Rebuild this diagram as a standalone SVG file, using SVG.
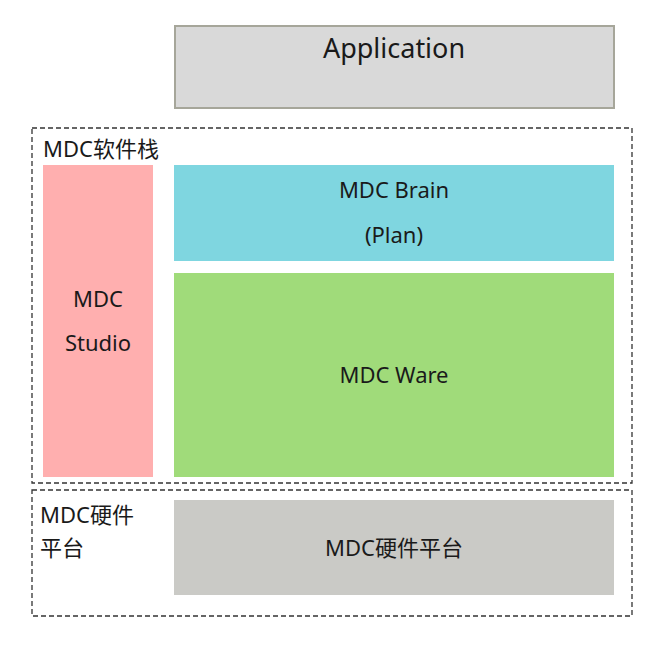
<svg xmlns="http://www.w3.org/2000/svg" width="667" height="654" viewBox="0 0 667 654">
<style>
text{font-family:"Noto Sans","Noto Sans CJK SC",sans-serif;fill:#1a1a1a}
.dash{fill:none;stroke:#333;stroke-width:1.3;stroke-dasharray:5,3}
</style>
<rect width="667" height="654" fill="#fff"/>
<g id="app"><rect x="175" y="26" width="439" height="82" fill="#d9d9d9" stroke="#a6a69a" stroke-width="2"/><text x="394" y="58" font-size="27" text-anchor="middle">Application</text></g>
<g id="sw"><rect x="32" y="128" width="600" height="355" class="dash"/><text x="43" y="157" font-size="22">MDC软件栈</text></g>
<g id="studio"><rect x="43" y="165" width="110" height="312" fill="#ffafaf"/><text x="98" y="307" font-size="22" text-anchor="middle">MDC</text><text x="98" y="351" font-size="22" text-anchor="middle">Studio</text></g>
<g id="brain"><rect x="174" y="165" width="440" height="96" fill="#7fd6e0"/><text x="394" y="198" font-size="22" text-anchor="middle">MDC Brain</text><text x="394" y="243" font-size="22" text-anchor="middle">(Plan)</text></g>
<g id="ware"><rect x="174" y="273" width="440" height="204" fill="#a0db7a"/><text x="394" y="383" font-size="22" text-anchor="middle">MDC Ware</text></g>
<g id="hw"><rect x="32" y="490" width="600" height="126" class="dash"/><text x="40" y="523" font-size="22">MDC硬件</text><text x="40" y="556" font-size="22">平台</text></g>
<g id="hwbox"><rect x="174" y="500" width="440" height="95" fill="#cacac6"/><text x="394" y="556" font-size="22" text-anchor="middle">MDC硬件平台</text></g>
<g id="connectors"/>
</svg>
